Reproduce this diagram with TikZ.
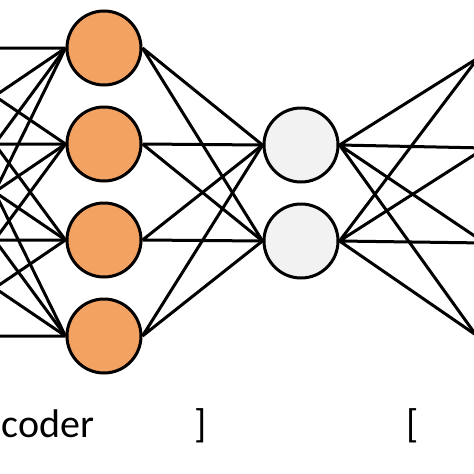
\documentclass[tikz,border=0pt]{standalone}
\usepackage{fontspec}
\setmainfont{Carlito}
\usepackage{tikz}
\usetikzlibrary{positioning}
\definecolor{neuronorange}{RGB}{244,162,97}
\definecolor{neurongray}{RGB}{242,242,242}
\tikzset{
neuron/.style={
  circle,
  draw=black,
  line width=3pt,
  minimum size=74pt,
  inner sep=0pt
},
hidden/.style={neuron, fill=neuronorange},
code/.style={neuron, fill=neurongray},
link/.style={line width=3pt},
caption/.style={font=\fontsize{40}{48}\selectfont, inner sep=0pt}
}

\begin{document}
\begin{tikzpicture}[x=1pt, y=-1pt]
  \useasboundingbox (0,0) rectangle (474,474);

  % input layer (outside the crop)
  \coordinate (in1) at (-76,48);
  \coordinate (in2) at (-76,144);
  \coordinate (in3) at (-76,240);
  \coordinate (in4) at (-76,336);

  % decoder layer (outside the crop)
  \coordinate (out1) at (478,58);
  \coordinate (out2) at (485,148);
  \coordinate (out3) at (485,243);
  \coordinate (out4) at (476,335);

  % encoder hidden layer
  \node[hidden] (h1) at (104,48) {};
  \node[hidden] (h2) at (104,144) {};
  \node[hidden] (h3) at (104,240) {};
  \node[hidden] (h4) at (104,336) {};

  % code layer
  \node[code] (c1) at (301,145) {};
  \node[code] (c2) at (301,241) {};

  \draw[link] (in1) -- (h1.west) (in1) -- (h2.west) (in1) -- (h3.west) (in1) -- (h4.west);
  \draw[link] (in2) -- (h1.west) (in2) -- (h2.west) (in2) -- (h3.west) (in2) -- (h4.west);
  \draw[link] (in3) -- (h1.west) (in3) -- (h2.west) (in3) -- (h3.west) (in3) -- (h4.west);
  \draw[link] (in4) -- (h1.west) (in4) -- (h2.west) (in4) -- (h3.west) (in4) -- (h4.west);

  \draw[link] (h1.east) -- (c1.west) (h1.east) -- (c2.west);
  \draw[link] (h2.east) -- (c1.west) (h2.east) -- (c2.west);
  \draw[link] (h3.east) -- (c1.west) (h3.east) -- (c2.west);
  \draw[link] (h4.east) -- (c1.west) (h4.east) -- (c2.west);

  \draw[link] (c1.east) -- (out1) (c1.east) -- (out2) (c1.east) -- (out3) (c1.east) -- (out4);
  \draw[link] (c2.east) -- (out1) (c2.east) -- (out2) (c2.east) -- (out3) (c2.east) -- (out4);

  % labels
  \node[caption, anchor=base west] (enclabel) at (1.5,437) {coder};
  \node[caption, anchor=base] (codeclose) at (201,437) {]};
  \node[caption, anchor=base] (decopen) at (413,437) {[};
\end{tikzpicture}
\end{document}
